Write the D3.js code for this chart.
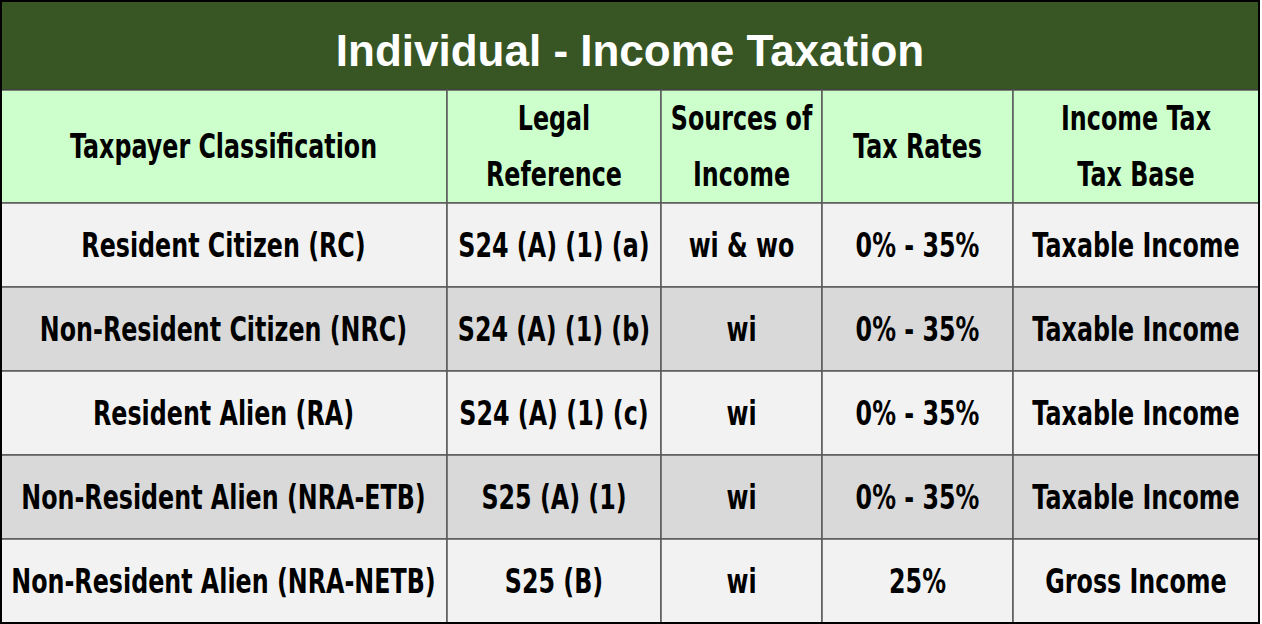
<!DOCTYPE html>
<html><head><meta charset="utf-8">
<script src="https://cdn.jsdelivr.net/npm/d3@7"></script>
<style>body{margin:0;background:#fff}</style>
</head><body>
<script>
var title = "Individual - Income Taxation";
var headers = [["Taxpayer Classification"], ["Legal", "Reference"], ["Sources of", "Income"], ["Tax Rates"], ["Income Tax", "Tax Base"]];
var classifications = ["Resident Citizen (RC)", "Non-Resident Citizen (NRC)", "Resident Alien (RA)", "Non-Resident Alien (NRA-ETB)", "Non-Resident Alien (NRA-NETB)"];
var legalRefs = ["S24 (A) (1) (a)", "S24 (A) (1) (b)", "S24 (A) (1) (c)", "S25 (A) (1)", "S25 (B)"];
var sources = ["wi & wo", "wi", "wi", "wi", "wi"];
var taxRates = ["0% - 35%", "0% - 35%", "0% - 35%", "0% - 35%", "25%"];
var taxBases = ["Taxable Income", "Taxable Income", "Taxable Income", "Taxable Income", "Gross Income"];

var colEdges = [0, 447, 661, 822, 1013, 1259];
var W = 1262, H = 624;
var font = "'DejaVu Sans',sans-serif";
var squeeze = 0.7; // narrow the wide fallback font

var svg = d3.select('body').append('svg').attr('width', W).attr('height', H);

// title bar
svg.append('rect').attr('x', 0).attr('y', 0).attr('width', 1259).attr('height', 90)
	.attr('fill', '#375623').attr('stroke', '#000').attr('stroke-width', 2);
svg.append('text').attr('x', 630).attr('y', 54).attr('text-anchor', 'middle')
	.attr('dominant-baseline', 'middle').attr('fill', '#fff')
	.style('font', "bold 44px 'Liberation Sans',Arial,sans-serif").text(title);

var rows = d3.range(classifications.length).map(function(i) {
	return [classifications[i], legalRefs[i], sources[i], taxRates[i], taxBases[i]];
});

var y = d3.scaleBand().domain(d3.range(rows.length)).range([203, 623]);

function cell(g, x0, x1, y0, y1, lines, fill) {
	g.append('rect').attr('x', x0).attr('y', y0).attr('width', x1 - x0).attr('height', y1 - y0)
		.attr('fill', fill).attr('stroke', '#595959').attr('stroke-width', 1.5);
	var cy = (y0 + y1) / 2, lh = 56, cx = (x0 + x1) / 2;
	lines.forEach(function(t, k) {
		g.append('text')
			.attr('transform', 'translate(' + cx + ',' + (cy + (k - (lines.length - 1) / 2) * lh) + ') scale(' + squeeze + ',1)')
			.attr('text-anchor', 'middle').attr('dominant-baseline', 'central')
			.attr('fill', '#000').style('font', 'bold 34px ' + font).text(t);
	});
}

var g = svg.append('g');
headers.forEach(function(h, c) {
	cell(g, colEdges[c], colEdges[c + 1], 90, 203, h, '#ccffcc');
});
rows.forEach(function(r, i) {
	r.forEach(function(t, c) {
		cell(g, colEdges[c], colEdges[c + 1], y(i), y(i) + y.bandwidth(), [t], i % 2 ? '#d9d9d9' : '#f2f2f2');
	});
});
svg.append('rect').attr('x', 1).attr('y', 1).attr('width', 1258).attr('height', 622)
	.attr('fill', 'none').attr('stroke', '#000').attr('stroke-width', 2);
</script>
</body></html>
